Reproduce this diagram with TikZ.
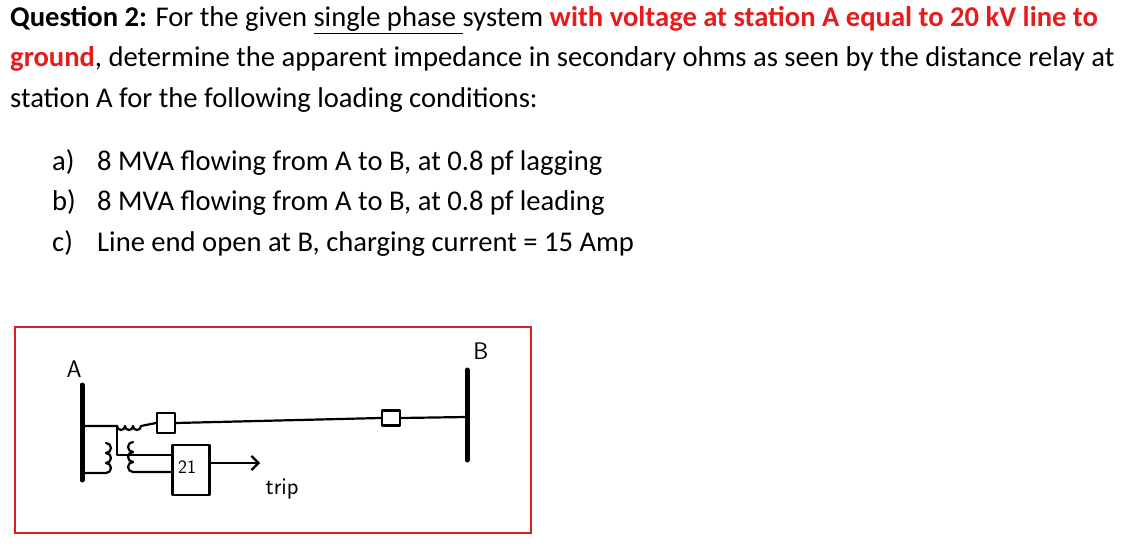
\documentclass[tikz,border=0pt]{standalone}
\usepackage{fontspec}
\setmainfont{Carlito}
\usetikzlibrary{arrows.meta}
\definecolor{qred}{RGB}{230,28,28}
\definecolor{frame}{RGB}{215,30,35}
\begin{document}
\begin{tikzpicture}[x=1pt,y=-1pt,
  txt/.style={anchor=base west,inner sep=0pt,font=\fontsize{28.6}{34}\selectfont},
  pen/.style={line width=2.2pt,line cap=round,line join=round},
  bus/.style={line width=5pt,line cap=round},
  hand/.style={font=\sffamily\fontsize{24}{28}\selectfont,inner sep=0pt}]
\useasboundingbox (0,0) rectangle (1128,548);
\node[txt] (l1) at (10,27) {\textbf{Question 2:} For the given \underline{single phase }system \textcolor{qred}{\textbf{with voltage at station A equal to 20 kV line to}}};
\node[txt] (l2) at (10,67) {\textcolor{qred}{\textbf{ground}}, determine the apparent impedance in secondary ohms as seen by the distance relay at};
\node[txt] (l3) at (10,108) {station A for the following loading conditions:};
\node[txt] (a1) at (52,171) {a)};
\node[txt] (a2) at (97,171) {8 MVA flowing from A to B, at 0.8 pf lagging};
\node[txt] (b1) at (52,211) {b)};
\node[txt] (b2) at (97,211) {8 MVA flowing from A to B, at 0.8 pf leading};
\node[txt] (c1) at (52,252) {c)};
\node[txt] (c2) at (97,252) {Line end open at B, charging current = 15 Amp};
% frame
\draw[frame,line width=2.5pt] (15,327) rectangle (531,533);
% buses
\coordinate (a0) at (82,385); \coordinate (a1b) at (82,480);
\coordinate (b0) at (467,370); \coordinate (b1b) at (467,460);
\draw[bus] (a0) -- (a1b);
\draw[bus] (b0) -- (b1b);
\node[hand] (A) at (74,369) {A};
\node[hand] (B) at (481,351) {B};
% breakers
\node[draw,pen,minimum width=18pt,minimum height=20pt,inner sep=0pt] (cb1) at (166,423) {};
\node[draw,pen,minimum width=18pt,minimum height=15pt,inner sep=0pt] (cb2) at (391,418) {};
% line with CT
\draw[pen] (82,426) -- (117,426) arc[start angle=180,end angle=0,radius=4] arc[start angle=180,end angle=0,radius=4] arc[start angle=180,end angle=0,radius=4] -- (cb1.west);
\draw[pen] (cb1.east) -- (cb2.west);
\draw[pen] (cb2.east) -- (467,417);
% relay
\node[draw,pen,minimum width=37pt,minimum height=50pt,inner sep=0pt] (relay) at (191,470) {};
\node[hand,font=\sffamily\fontsize{19}{22}\selectfont] (r21) at (187,467) {21};
\draw[pen] (117,426) -- (117,455) -- (relay.west |- 0,455);
\draw[pen,-{Straight Barb[length=7pt]}] (relay.east |- 0,463) -- (260,463);
\node[hand] (trip) at (282,489) {trip};
% VT
\draw[pen] (82,473) -- (106,473)
  arc[start angle=90,end angle=-90,radius=5]
  arc[start angle=90,end angle=-90,radius=5]
  arc[start angle=90,end angle=-90,radius=5];
\draw[pen] (relay.west |- 0,472) -- (133,472)
  arc[start angle=90,end angle=270,radius=5]
  arc[start angle=90,end angle=270,radius=5]
  arc[start angle=90,end angle=270,radius=5];
\end{tikzpicture}
\end{document}
